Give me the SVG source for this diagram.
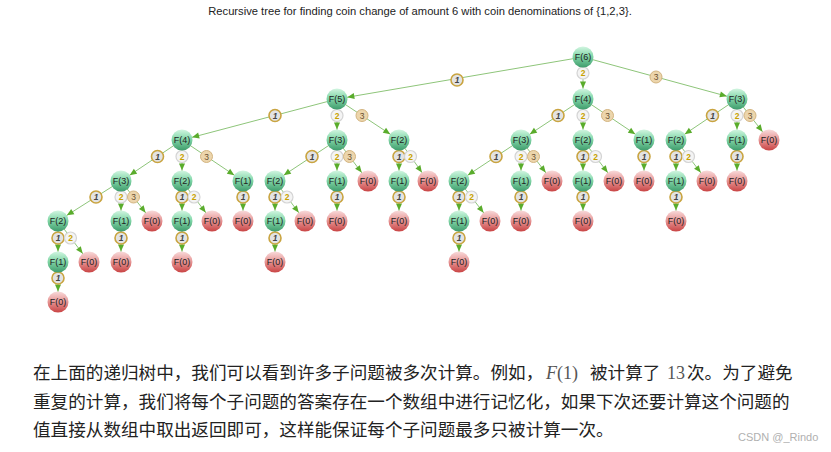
<svg xmlns="http://www.w3.org/2000/svg" width="831" height="452" viewBox="0 0 831 452">
<defs>
<linearGradient id="gg" x1="0" y1="0" x2="0" y2="1">
<stop offset="0" stop-color="#d2f5e1"/>
<stop offset="0.45" stop-color="#84d8aa"/>
<stop offset="1" stop-color="#3f9c6c"/>
</linearGradient>
<linearGradient id="rg" x1="0" y1="0" x2="0" y2="1">
<stop offset="0" stop-color="#f8dada"/>
<stop offset="0.45" stop-color="#e89a9a"/>
<stop offset="1" stop-color="#c94444"/>
</linearGradient>
<marker id="ar" markerUnits="userSpaceOnUse" markerWidth="30" markerHeight="8" viewBox="0 -4 30 8" refX="17.5" refY="0" orient="auto" overflow="visible">
<path d="M0,-3 L7,0 L0,3 z" fill="#5aac2c"/>
</marker>
</defs>
<style>
.e line{stroke:#8ec57a;stroke-width:1;fill:none;marker-end:url(#ar)}
.k1 circle{fill:#e3e3e3;stroke:#c9a440;stroke-width:1.6}
.k2 circle{fill:#f4f4f4;stroke:#d4d4d4;stroke-width:1.2}
.k3 circle{fill:#ecd5ac;stroke:#d3b47f;stroke-width:1}
.k1 text,.k2 text,.k3 text{font-family:"Liberation Sans",Arial,sans-serif;font-size:8.5px;text-anchor:middle}
.k1 text{font-style:italic;font-weight:bold;fill:#444}
.k2 text{font-weight:bold;fill:#c8a200}
.k3 text{fill:#6a5030}
.g circle{fill:url(#gg)}
.r circle{fill:url(#rg)}
.g text,.r text{font-family:"Liberation Sans",Arial,sans-serif;font-size:9px;fill:#222;text-anchor:middle}
.title{font-family:"Liberation Sans",Arial,sans-serif;font-size:11.2px;fill:#222;text-anchor:middle}
.cn{font-family:"Noto Sans CJK SC","Microsoft YaHei",sans-serif;font-size:17.6px;fill:#222}
.math{font-family:"Liberation Serif","Times New Roman",serif;font-size:18px;fill:#555}
.wm{font-family:"Liberation Sans",Arial,sans-serif;font-size:11px;fill:#b0b0b0}
</style>
<rect width="831" height="452" fill="#ffffff"/>
<text class="title" x="420" y="15">Recursive tree for finding coin change of amount 6 with coin denominations of {1,2,3}.</text>

<g id="connectors" class="e">
<g><line x1="583" y1="57" x2="337" y2="99"/><g class="k1"><circle cx="457" cy="80" r="6"/><text x="457" y="83">1</text></g></g>
<g><line x1="583" y1="57" x2="583" y2="99"/><g class="k2"><circle cx="583" cy="73" r="6"/><text x="583" y="76">2</text></g></g>
<g><line x1="583" y1="57" x2="737" y2="99"/><g class="k3"><circle cx="656" cy="77" r="6"/><text x="656" y="80">3</text></g></g>

<g><line x1="337" y1="99" x2="182" y2="140"/><g class="k1"><circle cx="275" cy="115.5" r="6"/><text x="275" y="118.5">1</text></g></g>
<g><line x1="337" y1="99" x2="337" y2="140"/><g class="k2"><circle cx="337" cy="115.5" r="6"/><text x="337" y="118.5">2</text></g></g>
<g><line x1="337" y1="99" x2="399" y2="140"/><g class="k3"><circle cx="362" cy="115.5" r="6"/><text x="362" y="118.5">3</text></g></g>
<g><line x1="583" y1="99" x2="521" y2="140"/><g class="k1"><circle cx="558" cy="115.5" r="6"/><text x="558" y="118.5">1</text></g></g>
<g><line x1="583" y1="99" x2="583" y2="140"/><g class="k2"><circle cx="583" cy="115.5" r="6"/><text x="583" y="118.5">2</text></g></g>
<g><line x1="583" y1="99" x2="644" y2="140"/><g class="k3"><circle cx="607.5" cy="115.5" r="6"/><text x="607.5" y="118.5">3</text></g></g>
<g><line x1="737" y1="99" x2="676" y2="140"/><g class="k1"><circle cx="712.5" cy="115.5" r="6"/><text x="712.5" y="118.5">1</text></g></g>
<g><line x1="737" y1="99" x2="737" y2="140"/><g class="k2"><circle cx="737" cy="115.5" r="6"/><text x="737" y="118.5">2</text></g></g>
<g><line x1="737" y1="99" x2="769" y2="140"/><g class="k3"><circle cx="750" cy="115.5" r="6"/><text x="750" y="118.5">3</text></g></g>

<g><line x1="182" y1="140" x2="121" y2="181"/><g class="k1"><circle cx="157.5" cy="156.5" r="6"/><text x="157.5" y="159.5">1</text></g></g>
<g><line x1="182" y1="140" x2="182" y2="181"/><g class="k2"><circle cx="182" cy="156.5" r="6"/><text x="182" y="159.5">2</text></g></g>
<g><line x1="182" y1="140" x2="243" y2="181"/><g class="k3"><circle cx="206.5" cy="156.5" r="6"/><text x="206.5" y="159.5">3</text></g></g>
<g><line x1="337" y1="140" x2="275" y2="181"/><g class="k1"><circle cx="312" cy="156.5" r="6"/><text x="312" y="159.5">1</text></g></g>
<g><line x1="337" y1="140" x2="337" y2="181"/><g class="k2"><circle cx="337" cy="156.5" r="6"/><text x="337" y="159.5">2</text></g></g>
<g><line x1="337" y1="140" x2="368" y2="181"/><g class="k3"><circle cx="349.5" cy="156.5" r="6"/><text x="349.5" y="159.5">3</text></g></g>
<g><line x1="399" y1="140" x2="399" y2="181"/><g class="k1"><circle cx="399" cy="156.5" r="6"/><text x="399" y="159.5">1</text></g></g>
<g><line x1="399" y1="140" x2="428" y2="181"/><g class="k2"><circle cx="410.5" cy="156.5" r="6"/><text x="410.5" y="159.5">2</text></g></g>
<g><line x1="521" y1="140" x2="459" y2="181"/><g class="k1"><circle cx="496" cy="156.5" r="6"/><text x="496" y="159.5">1</text></g></g>
<g><line x1="521" y1="140" x2="521" y2="181"/><g class="k2"><circle cx="521" cy="156.5" r="6"/><text x="521" y="159.5">2</text></g></g>
<g><line x1="521" y1="140" x2="552" y2="181"/><g class="k3"><circle cx="533.5" cy="156.5" r="6"/><text x="533.5" y="159.5">3</text></g></g>
<g><line x1="583" y1="140" x2="583" y2="181"/><g class="k1"><circle cx="583" cy="156.5" r="6"/><text x="583" y="159.5">1</text></g></g>
<g><line x1="583" y1="140" x2="614" y2="181"/><g class="k2"><circle cx="595.5" cy="156.5" r="6"/><text x="595.5" y="159.5">2</text></g></g>
<g><line x1="644" y1="140" x2="644" y2="181"/><g class="k1"><circle cx="644" cy="156.5" r="6"/><text x="644" y="159.5">1</text></g></g>
<g><line x1="676" y1="140" x2="676" y2="181"/><g class="k1"><circle cx="676" cy="156.5" r="6"/><text x="676" y="159.5">1</text></g></g>
<g><line x1="676" y1="140" x2="707" y2="181"/><g class="k2"><circle cx="688.5" cy="156.5" r="6"/><text x="688.5" y="159.5">2</text></g></g>
<g><line x1="737" y1="140" x2="737" y2="181"/><g class="k1"><circle cx="737" cy="156.5" r="6"/><text x="737" y="159.5">1</text></g></g>

<g><line x1="121" y1="181" x2="58" y2="221"/><g class="k1"><circle cx="96" cy="197" r="6"/><text x="96" y="200">1</text></g></g>
<g><line x1="121" y1="181" x2="121" y2="221"/><g class="k2"><circle cx="121" cy="197" r="6"/><text x="121" y="200">2</text></g></g>
<g><line x1="121" y1="181" x2="152" y2="221"/><g class="k3"><circle cx="133.5" cy="197" r="6"/><text x="133.5" y="200">3</text></g></g>
<g><line x1="182" y1="181" x2="182" y2="221"/><g class="k1"><circle cx="182" cy="197" r="6"/><text x="182" y="200">1</text></g></g>
<g><line x1="182" y1="181" x2="212" y2="221"/><g class="k2"><circle cx="194" cy="197" r="6"/><text x="194" y="200">2</text></g></g>
<g><line x1="243" y1="181" x2="243" y2="221"/><g class="k1"><circle cx="243" cy="197" r="6"/><text x="243" y="200">1</text></g></g>
<g><line x1="275" y1="181" x2="275" y2="221"/><g class="k1"><circle cx="275" cy="197" r="6"/><text x="275" y="200">1</text></g></g>
<g><line x1="275" y1="181" x2="305" y2="221"/><g class="k2"><circle cx="287" cy="197" r="6"/><text x="287" y="200">2</text></g></g>
<g><line x1="337" y1="181" x2="337" y2="221"/><g class="k1"><circle cx="337" cy="197" r="6"/><text x="337" y="200">1</text></g></g>
<g><line x1="399" y1="181" x2="399" y2="221"/><g class="k1"><circle cx="399" cy="197" r="6"/><text x="399" y="200">1</text></g></g>
<g><line x1="459" y1="181" x2="459" y2="221"/><g class="k1"><circle cx="459" cy="197" r="6"/><text x="459" y="200">1</text></g></g>
<g><line x1="459" y1="181" x2="490" y2="221"/><g class="k2"><circle cx="471.5" cy="197" r="6"/><text x="471.5" y="200">2</text></g></g>
<g><line x1="521" y1="181" x2="521" y2="221"/><g class="k1"><circle cx="521" cy="197" r="6"/><text x="521" y="200">1</text></g></g>
<g><line x1="583" y1="181" x2="583" y2="221"/><g class="k1"><circle cx="583" cy="197" r="6"/><text x="583" y="200">1</text></g></g>
<g><line x1="676" y1="181" x2="676" y2="221"/><g class="k1"><circle cx="676" cy="197" r="6"/><text x="676" y="200">1</text></g></g>

<g><line x1="58" y1="221" x2="58" y2="262"/><g class="k1"><circle cx="58" cy="238" r="6"/><text x="58" y="241">1</text></g></g>
<g><line x1="58" y1="221" x2="89" y2="262"/><g class="k2"><circle cx="70.5" cy="238" r="6"/><text x="70.5" y="241">2</text></g></g>
<g><line x1="121" y1="221" x2="121" y2="262"/><g class="k1"><circle cx="121" cy="238" r="6"/><text x="121" y="241">1</text></g></g>
<g><line x1="182" y1="221" x2="182" y2="262"/><g class="k1"><circle cx="182" cy="238" r="6"/><text x="182" y="241">1</text></g></g>
<g><line x1="275" y1="221" x2="275" y2="262"/><g class="k1"><circle cx="275" cy="238" r="6"/><text x="275" y="241">1</text></g></g>
<g><line x1="459" y1="221" x2="459" y2="262"/><g class="k1"><circle cx="459" cy="238" r="6"/><text x="459" y="241">1</text></g></g>

<g><line x1="58" y1="262" x2="58" y2="302"/><g class="k1"><circle cx="58" cy="278" r="6"/><text x="58" y="281">1</text></g></g>
</g>

<g id="nodes">
<g id="n0" class="g"><circle cx="583" cy="57" r="10.5"/><text x="583" y="60.2">F(6)</text></g>
<g id="n1" class="g"><circle cx="337" cy="99" r="10.5"/><text x="337" y="102.2">F(5)</text></g>
<g id="n2" class="g"><circle cx="583" cy="99" r="10.5"/><text x="583" y="102.2">F(4)</text></g>
<g id="n3" class="g"><circle cx="737" cy="99" r="10.5"/><text x="737" y="102.2">F(3)</text></g>

<g id="n4" class="g"><circle cx="182" cy="140" r="10.5"/><text x="182" y="143.2">F(4)</text></g>
<g id="n5" class="g"><circle cx="337" cy="140" r="10.5"/><text x="337" y="143.2">F(3)</text></g>
<g id="n6" class="g"><circle cx="399" cy="140" r="10.5"/><text x="399" y="143.2">F(2)</text></g>
<g id="n7" class="g"><circle cx="521" cy="140" r="10.5"/><text x="521" y="143.2">F(3)</text></g>
<g id="n8" class="g"><circle cx="583" cy="140" r="10.5"/><text x="583" y="143.2">F(2)</text></g>
<g id="n9" class="g"><circle cx="644" cy="140" r="10.5"/><text x="644" y="143.2">F(1)</text></g>
<g id="n10" class="g"><circle cx="676" cy="140" r="10.5"/><text x="676" y="143.2">F(2)</text></g>
<g id="n11" class="g"><circle cx="737" cy="140" r="10.5"/><text x="737" y="143.2">F(1)</text></g>
<g id="n12" class="r"><circle cx="769" cy="140" r="10.5"/><text x="769" y="143.2">F(0)</text></g>

<g id="n13" class="g"><circle cx="121" cy="181" r="10.5"/><text x="121" y="184.2">F(3)</text></g>
<g id="n14" class="g"><circle cx="182" cy="181" r="10.5"/><text x="182" y="184.2">F(2)</text></g>
<g id="n15" class="g"><circle cx="243" cy="181" r="10.5"/><text x="243" y="184.2">F(1)</text></g>
<g id="n16" class="g"><circle cx="275" cy="181" r="10.5"/><text x="275" y="184.2">F(2)</text></g>
<g id="n17" class="g"><circle cx="337" cy="181" r="10.5"/><text x="337" y="184.2">F(1)</text></g>
<g id="n18" class="r"><circle cx="368" cy="181" r="10.5"/><text x="368" y="184.2">F(0)</text></g>
<g id="n19" class="g"><circle cx="399" cy="181" r="10.5"/><text x="399" y="184.2">F(1)</text></g>
<g id="n20" class="r"><circle cx="428" cy="181" r="10.5"/><text x="428" y="184.2">F(0)</text></g>
<g id="n21" class="g"><circle cx="459" cy="181" r="10.5"/><text x="459" y="184.2">F(2)</text></g>
<g id="n22" class="g"><circle cx="521" cy="181" r="10.5"/><text x="521" y="184.2">F(1)</text></g>
<g id="n23" class="r"><circle cx="552" cy="181" r="10.5"/><text x="552" y="184.2">F(0)</text></g>
<g id="n24" class="g"><circle cx="583" cy="181" r="10.5"/><text x="583" y="184.2">F(1)</text></g>
<g id="n25" class="r"><circle cx="614" cy="181" r="10.5"/><text x="614" y="184.2">F(0)</text></g>
<g id="n26" class="r"><circle cx="644" cy="181" r="10.5"/><text x="644" y="184.2">F(0)</text></g>
<g id="n27" class="g"><circle cx="676" cy="181" r="10.5"/><text x="676" y="184.2">F(1)</text></g>
<g id="n28" class="r"><circle cx="707" cy="181" r="10.5"/><text x="707" y="184.2">F(0)</text></g>
<g id="n29" class="r"><circle cx="737" cy="181" r="10.5"/><text x="737" y="184.2">F(0)</text></g>

<g id="n30" class="g"><circle cx="58" cy="221" r="10.5"/><text x="58" y="224.2">F(2)</text></g>
<g id="n31" class="g"><circle cx="121" cy="221" r="10.5"/><text x="121" y="224.2">F(1)</text></g>
<g id="n32" class="r"><circle cx="152" cy="221" r="10.5"/><text x="152" y="224.2">F(0)</text></g>
<g id="n33" class="g"><circle cx="182" cy="221" r="10.5"/><text x="182" y="224.2">F(1)</text></g>
<g id="n34" class="r"><circle cx="212" cy="221" r="10.5"/><text x="212" y="224.2">F(0)</text></g>
<g id="n35" class="r"><circle cx="243" cy="221" r="10.5"/><text x="243" y="224.2">F(0)</text></g>
<g id="n36" class="g"><circle cx="275" cy="221" r="10.5"/><text x="275" y="224.2">F(1)</text></g>
<g id="n37" class="r"><circle cx="305" cy="221" r="10.5"/><text x="305" y="224.2">F(0)</text></g>
<g id="n38" class="r"><circle cx="337" cy="221" r="10.5"/><text x="337" y="224.2">F(0)</text></g>
<g id="n39" class="r"><circle cx="399" cy="221" r="10.5"/><text x="399" y="224.2">F(0)</text></g>
<g id="n40" class="g"><circle cx="459" cy="221" r="10.5"/><text x="459" y="224.2">F(1)</text></g>
<g id="n41" class="r"><circle cx="490" cy="221" r="10.5"/><text x="490" y="224.2">F(0)</text></g>
<g id="n42" class="r"><circle cx="521" cy="221" r="10.5"/><text x="521" y="224.2">F(0)</text></g>
<g id="n43" class="r"><circle cx="583" cy="221" r="10.5"/><text x="583" y="224.2">F(0)</text></g>
<g id="n44" class="r"><circle cx="676" cy="221" r="10.5"/><text x="676" y="224.2">F(0)</text></g>

<g id="n45" class="g"><circle cx="58" cy="262" r="10.5"/><text x="58" y="265.2">F(1)</text></g>
<g id="n46" class="r"><circle cx="89" cy="262" r="10.5"/><text x="89" y="265.2">F(0)</text></g>
<g id="n47" class="r"><circle cx="121" cy="262" r="10.5"/><text x="121" y="265.2">F(0)</text></g>
<g id="n48" class="r"><circle cx="182" cy="262" r="10.5"/><text x="182" y="265.2">F(0)</text></g>
<g id="n49" class="r"><circle cx="275" cy="262" r="10.5"/><text x="275" y="265.2">F(0)</text></g>
<g id="n50" class="r"><circle cx="459" cy="262" r="10.5"/><text x="459" y="265.2">F(0)</text></g>

<g id="n51" class="r"><circle cx="58" cy="302" r="10.5"/><text x="58" y="305.2">F(0)</text></g>
</g>

<g id="caption">
<text class="cn" x="33" y="379">在上面的递归树中，我们可以看到许多子问题被多次计算。例如，</text>
<text class="math" x="546" y="379"><tspan font-style="italic">F</tspan>(1)</text>
<text class="cn" x="590" y="379">被计算了</text>
<text class="math" x="667" y="379">13</text>
<text class="cn" x="687" y="379">次。为了避免</text>
<text class="cn" x="33" y="408">重复的计算，我们将每个子问题的答案存在一个数组中进行记忆化，如果下次还要计算这个问题的</text>
<text class="cn" x="33" y="436">值直接从数组中取出返回即可，这样能保证每个子问题最多只被计算一次。</text>
<text class="wm" x="738" y="441">CSDN @_Rindo</text>
</g>
</svg>
